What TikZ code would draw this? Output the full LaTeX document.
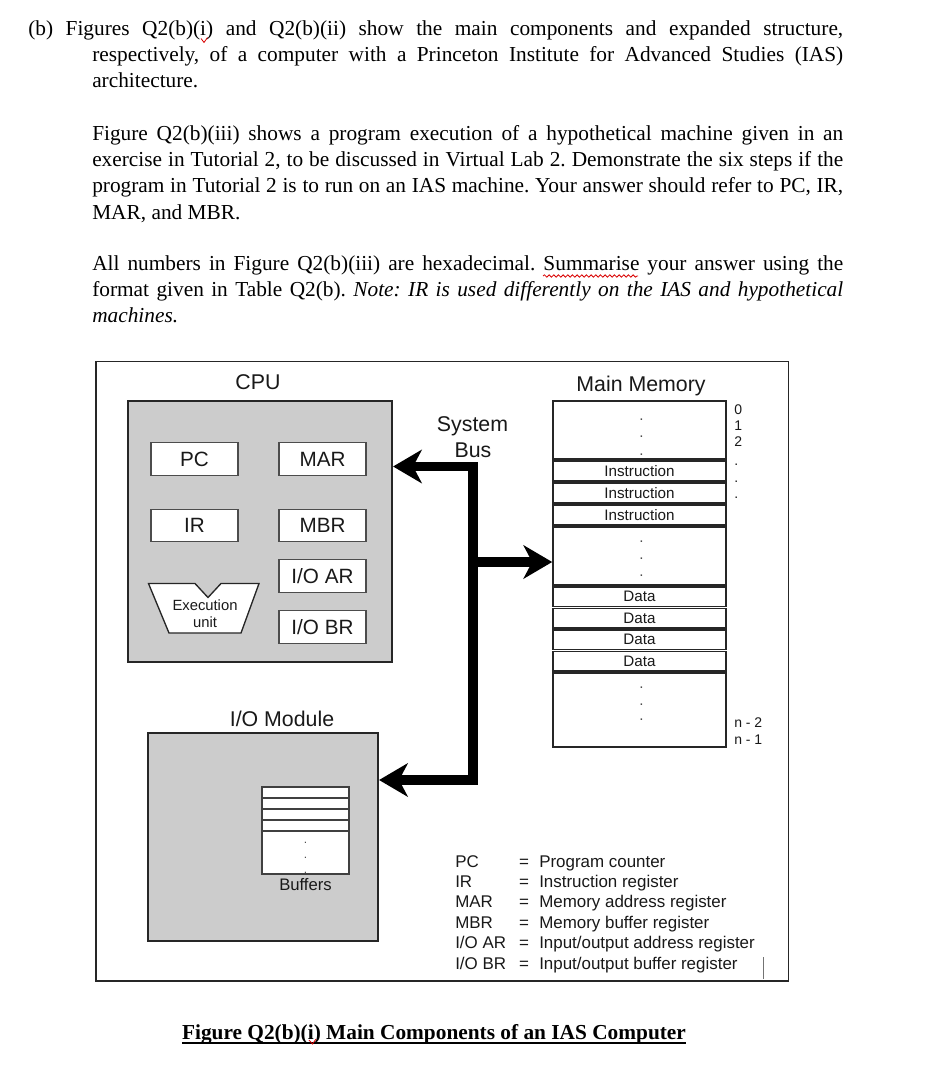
\documentclass[tikz,border=0pt]{standalone}
\usepackage{fontspec}
\setmainfont{Liberation Serif}
\newfontfamily\arialf{Liberation Sans}
\usetikzlibrary{arrows.meta,decorations.pathmorphing}
\frenchspacing
\begin{document}
\begin{tikzpicture}[x=0.75pt,y=-0.75pt,
  body/.style={anchor=base west, inner sep=0pt, font=\fontsize{16}{19}\selectfont},
  title/.style={anchor=base, inner sep=0pt, text=black!90, font=\arialf\fontsize{16}{19}\selectfont},
  box/.style={draw=black!85, line width=1.6pt, fill=black!20, inner sep=0pt},
  reg/.style={draw=black!70, line width=0.8pt, fill=white, minimum width=65.25pt, minimum height=24.5pt, inner sep=0pt, text=black!90, font=\arialf\fontsize{15.5}{18}\selectfont},
  cell/.style={draw=black!85, line width=1.2pt, fill=white, minimum width=129.75pt, inner sep=0pt, text=black!90, font=\arialf\fontsize{11.4}{13}\selectfont},
  dotm/.style={anchor=base, inner sep=0pt, text=black!70, font=\arialf\fontsize{11.4}{13}\selectfont},
  idx/.style={anchor=base west, inner sep=0pt, text=black!90, font=\arialf\fontsize{10.5}{12}\selectfont},
  leg/.style={anchor=base west, inner sep=0pt, text=black!90, font=\arialf\fontsize{12.7}{15}\selectfont},
  legeq/.style={anchor=base, inner sep=0pt, text=black!90, font=\arialf\fontsize{12.7}{15}\selectfont},
  bufrow/.style={draw=black!75, line width=0.9pt, fill=white, minimum width=65.25pt, inner sep=0pt},
  bus/.style={line width=7.1pt, line join=miter, draw=black},
  bustip/.tip={Stealth[length=21.5pt,width=25pt,inset=6.5pt]},
  spell/.style={draw=red!85!black, line width=0.6pt}
]
\useasboundingbox (0,0) rectangle (924,1088);
\fill[white] (0,0) rectangle (924,1088);

% ---------- question text ----------
\node[body] (t1) at (28,35.5) {\makebox[611.25pt][s]{(b) Figures Q2(b)(i) and Q2(b)(ii) show the main components and expanded structure,}};
\node[body] (t2) at (92,61.7) {\makebox[563.25pt][s]{respectively, of a computer with a Princeton Institute for Advanced Studies (IAS)}};
\node[body] (t3) at (92,87.9) {architecture.};
\node[body] (t4) at (92,140.5) {\makebox[563.25pt][s]{Figure Q2(b)(iii) shows a program execution of a hypothetical machine given in an}};
\node[body] (t5) at (92,166.7) {\makebox[563.25pt][s]{exercise in Tutorial 2, to be discussed in Virtual Lab 2. Demonstrate the six steps if the}};
\node[body] (t6) at (92,192.9) {\makebox[563.25pt][s]{program in Tutorial 2 is to run on an IAS machine. Your answer should refer to PC, IR,}};
\node[body] (t7) at (92,219.1) {MAR, and MBR.};
\node[body] (t8) at (92,270) {\makebox[563.25pt][s]{All numbers in Figure Q2(b)(iii) are hexadecimal. Summarise your answer using the}};
\node[body] (t9) at (92,296.2) {\makebox[563.25pt][s]{format given in Table Q2(b). \textit{Note: IR is used differently on the IAS and hypothetical}}};
\node[body] (t10) at (92,322.4) {\textit{machines.}};

\draw[spell] (201,38.5) -- (204,42.5) -- (207.5,37.5);
\draw[spell, decorate, decoration={snake, segment length=3.5pt, amplitude=0.9pt}] (543,276) -- (638,276);

% ---------- frame ----------
\draw[line width=1.1pt, draw=black!85] (96,361.5) rectangle (788.5,981);
\draw[black!55, line width=0.6pt] (763,957) -- (763,979);

% ---------- CPU ----------
\node[title] (cpuL) at (258,389.5) {CPU};
\node[box, minimum width=198pt, minimum height=195.75pt] (cpu) at (260,531.5) {};
\node[reg] (pc)   at (194.5,459)   {PC};
\node[reg] (mar)  at (322.5,459)   {MAR};
\node[reg] (ir)   at (194.5,525.5) {IR};
\node[reg] (mbr)  at (322.5,525.5) {MBR};
\node[reg] (ioar) at (322.5,576)   {I/O AR};
\node[reg] (iobr) at (322.5,627)   {I/O BR};
\draw[draw=black!85, line width=1pt, fill=white] (148.5,583.5) -- (195,583.5) -- (208,597.5) -- (221,583.5) -- (259,583.5) -- (241,633) -- (169,633) -- cycle;
\node[align=center, inner sep=0pt, text=black!90, font=\arialf\fontsize{11.1}{12.75}\selectfont] (exec) at (205,613.5) {Execution\\unit};

% ---------- System bus label ----------
\node[title] (sys) at (472.5,431.7) {System};
\node[title] (busL) at (473,457) {Bus};

% ---------- Main memory ----------
\node[title] (memL) at (641,391) {Main Memory};
\node[cell, minimum height=43.5pt]  (m0) at (639.5,430) {};
\node[cell, minimum height=15pt]    (m1) at (639.5,471) {Instruction};
\node[cell, minimum height=15pt]    (m2) at (639.5,493) {Instruction};
\node[cell, minimum height=15pt]    (m3) at (639.5,515) {Instruction};
\node[cell, minimum height=43.5pt]  (m4) at (639.5,556) {};
\node[cell, minimum height=14.6pt]  (m5) at (639.5,596.75) {Data};
\node[cell, minimum height=14.6pt]  (m6) at (639.5,618.25) {Data};
\node[cell, minimum height=14.6pt]  (m7) at (639.5,639.75) {Data};
\node[cell, minimum height=14.6pt]  (m8) at (639.5,661.25) {Data};
\node[cell, minimum height=55.5pt]  (m9) at (639.5,710) {};
\foreach \yy [count=\i] in {420.5,437,455} \node[dotm] (da\i) at (641.5,\yy) {.};
\foreach \yy [count=\i] in {542,559,576.5} \node[dotm] (db\i) at (641.5,\yy) {.};
\foreach \yy [count=\i] in {688.5,705.5,720.5} \node[dotm] (dc\i) at (641.5,\yy) {.};

\node[idx] (a0) at (734,414) {0};
\node[idx] (a1) at (734,430) {1};
\node[idx] (a2) at (734,446.5) {2};
\foreach \yy [count=\i] in {465.5,482,498.5} \node[idx] (ad\i) at (734,\yy) {.};
\node[idx] (an2) at (734,727) {n - 2};
\node[idx] (an1) at (734,744) {n - 1};

% ---------- I/O module ----------
\node[title] (ioL) at (282,726.7) {I/O Module};
\node[box, minimum width=172.5pt, minimum height=156pt] (io) at (263,837) {};
\node[bufrow, minimum height=8.25pt]  (b1) at (305.5,792.5) {};
\node[bufrow, minimum height=8.25pt]  (b2) at (305.5,803.5) {};
\node[bufrow, minimum height=8.25pt]  (b3) at (305.5,814.5) {};
\node[bufrow, minimum height=8.25pt]  (b4) at (305.5,825.5) {};
\node[bufrow, minimum height=32.25pt] (b5) at (305.5,852.5) {};
\foreach \yy [count=\i] in {843,858,873.5} \node[dotm, font=\arialf\fontsize{9}{10}\selectfont] (bd\i) at (305.5,\yy) {.};
\node[title, font=\arialf\fontsize{12.5}{15}\selectfont] (bufL) at (305.5,890.7) {Buffers};

% ---------- bus ----------
\coordinate (bt) at (473,466.5);
\coordinate (bm) at (473,562);
\coordinate (bb) at (473,780);
\draw[bus, {bustip}-{bustip}] (cpu.east |- bt) -- (bt) -- (bb) -- (io.east |- bb);
\draw[bus, -{bustip}] (bm) -- (m4.west |- bm);

% ---------- legend ----------
\foreach \ab/\desc/\yy [count=\i] in {PC/Program counter/867, IR/Instruction register/887.3, MAR/Memory address register/907.7, MBR/Memory buffer register/928.3, I\slash O AR/Input\slash output address register/948.3, I\slash O BR/Input\slash output buffer register/969.3}{
  \node[leg] (la\i) at (455,\yy) {\ab};
  \node[legeq] (le\i) at (524,\yy) {=};
  \node[leg] (ld\i) at (539,\yy) {\desc};
}

% ---------- caption ----------
\node[anchor=base, inner sep=0pt, font=\bfseries\fontsize{16}{19}\selectfont] (cap) at (434,1039) {Figure Q2(b)(i) Main Components of an IAS Computer};
\draw[line width=1.1pt] ([yshift=-3pt]cap.base west) -- ([yshift=-3pt]cap.base east);
\draw[spell] (309,1040) -- (312.5,1044) -- (316,1039);
\end{tikzpicture}
\end{document}
